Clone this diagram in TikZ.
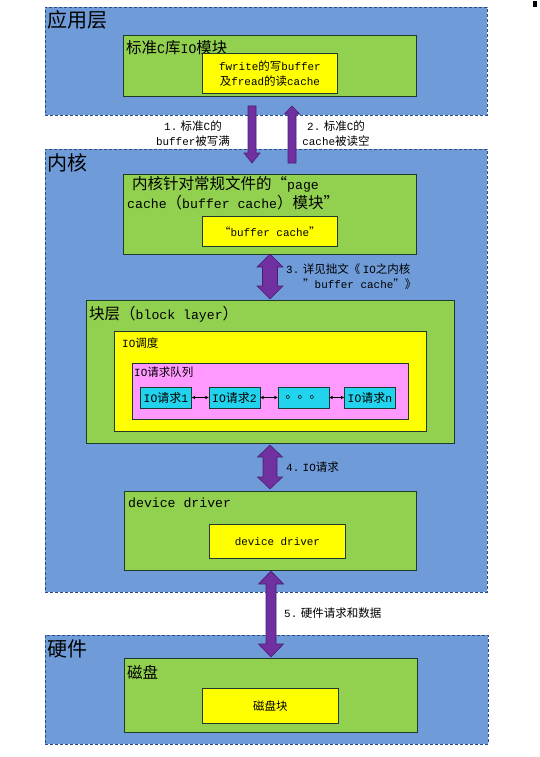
\documentclass[tikz,border=0pt]{standalone}
\usepackage{fontspec}
\setmainfont{Noto Sans CJK SC}
\newfontfamily\lmono[Scale=0.85]{Liberation Mono}
\newfontfamily\lmonob[Scale=0.95]{Liberation Mono}
\newcommand\mo[1]{{\lmono #1}}
\usetikzlibrary{arrows.meta}
\definecolor{layerblue}{HTML}{6F9BD8}
\definecolor{layerborder}{HTML}{2B4C86}
\definecolor{boxgreen}{HTML}{92D050}
\definecolor{boxborder}{HTML}{1E3A2A}
\definecolor{boxyellow}{HTML}{FFFF00}
\definecolor{boxpink}{HTML}{FF99FF}
\definecolor{boxcyan}{HTML}{22D3EE}
\definecolor{arrowpurple}{HTML}{7030A0}
\definecolor{arrowborder}{HTML}{4A1F70}
\newcommand\dblarrowshape[6]{%
\filldraw[blockarrow] (#1,#2) -- ({#1+#5},{#2+#6}) -- ({#1+#4},{#2+#6}) -- ({#1+#4},{#3-#6}) -- ({#1+#5},{#3-#6}) -- (#1,#3) -- ({#1-#5},{#3-#6}) -- ({#1-#4},{#3-#6}) -- ({#1-#4},{#2+#6}) -- ({#1-#5},{#2+#6}) -- cycle;}
\newcommand\downarrowshape[6]{%
\filldraw[blockarrow] ({#1-#4},#2) -- ({#1+#4},#2) -- ({#1+#4},{#3-#6}) -- ({#1+#5},{#3-#6}) -- (#1,#3) -- ({#1-#5},{#3-#6}) -- ({#1-#4},{#3-#6}) -- cycle;}
\newcommand\uparrowshape[6]{%
\filldraw[blockarrow] (#1,#2) -- ({#1+#5},{#2+#6}) -- ({#1+#4},{#2+#6}) -- ({#1+#4},#3) -- ({#1-#4},#3) -- ({#1-#4},{#2+#6}) -- ({#1-#5},{#2+#6}) -- cycle;}
\begin{document}
\begin{tikzpicture}[x=1pt,y=-1pt,
  layer/.style={draw=layerborder, fill=layerblue, line width=0.8pt, dash pattern=on 3pt off 2pt, anchor=north west, inner sep=0pt},
  gbox/.style={draw=boxborder, fill=boxgreen, line width=0.8pt, anchor=north west, inner sep=0pt},
  ybox/.style={draw=boxborder, fill=boxyellow, line width=0.8pt, anchor=north west, inner sep=0pt},
  pbox/.style={draw=boxborder, fill=boxpink, line width=0.8pt, anchor=north west, inner sep=0pt},
  cbox/.style={draw=boxborder, fill=boxcyan, line width=0.8pt, inner sep=0pt, minimum width=51pt, minimum height=21pt, font=\fontsize{12}{14}\selectfont\let\lmono\lmonob},
  title/.style={anchor=west, inner sep=0pt, font=\fontsize{20}{24}\selectfont},
  glabel/.style={anchor=west, inner sep=0pt, font=\fontsize{15.5}{19}\selectfont},
  small/.style={inner sep=0pt, font=\fontsize{11.5}{15}\selectfont\let\lmono\lmonob},
  blockarrow/.style={fill=arrowpurple, draw=arrowborder, line width=0.6pt},
  link/.style={<->, >={Stealth[length=3.5pt,width=3.5pt]}, line width=0.8pt, black}
  ]
\useasboundingbox (0,0) rectangle (540,757);
% layers
\node[layer, minimum width=442pt, minimum height=108pt] (app) at (45,7) {};
\node[layer, minimum width=442pt, minimum height=443pt] (kernel) at (45,149) {};
\node[layer, minimum width=443pt, minimum height=109pt] (hw) at (45,635) {};
\node[title] (appt) at (47,20) {应用层};
\node[title] (kernelt) at (47,163) {内核};
\node[title] (hwt) at (47,649) {硬件};
% application layer
\node[gbox, minimum width=293pt, minimum height=61pt] (clib) at (123,35) {};
\node[glabel] (clibt) at (126,48) {标准\mo{C}库\mo{IO}模块};
\node[ybox, minimum width=135pt, minimum height=40pt] (cbuf) at (202,53) {};
\node[small, align=center] (cbuft) at (cbuf.center) {\mo{fwrite}的写\mo{buffer}\\及\mo{fread}的读\mo{cache}};
% page cache
\node[gbox, minimum width=293pt, minimum height=80pt] (pc) at (123,174) {};
\node[glabel, anchor=north west, align=left] (pct) at (127,176) {\hspace{5pt}内核针对常规文件的“\mo{page}\\\mo{cache}（\mo{buffer cache}）模块”};
\node[ybox, minimum width=135pt, minimum height=30pt] (bc) at (202,216) {};
\node[small] (bct) at (bc.center) {“\mo{buffer cache}”};
% block layer
\node[gbox, minimum width=368pt, minimum height=143pt] (blk) at (86,300) {};
\node[glabel] (blkt) at (89,314) {块层（\mo{block layer}）};
\node[ybox, minimum width=312pt, minimum height=100pt] (sched) at (114,331) {};
\node[small, anchor=west] (schedt) at (122,343) {\mo{IO}调度};
\node[pbox, minimum width=276pt, minimum height=56pt] (queue) at (132,363) {};
\node[small, anchor=west] (queuet) at (134,372) {\mo{IO}请求队列};
\node[cbox] (q1) at (166,397.5) {\mo{IO}请求\mo{1}};
\node[cbox] (q2) at (234.5,397.5) {\mo{IO}请求\mo{2}};
\node[cbox] (q3) at (303.5,397.5) {。。。};
\node[cbox] (q4) at (370,397.5) {\mo{IO}请求\mo{n}};
\draw[link] (q1) -- (q2);
\draw[link] (q2) -- (q3);
\draw[link] (q3) -- (q4);
% device driver
\node[gbox, minimum width=292pt, minimum height=79pt] (dd) at (124,491) {};
\node[glabel] (ddt) at (128,503) {\mo{device driver}};
\node[ybox, minimum width=136pt, minimum height=34pt] (ddy) at (209,524) {};
\node[small] (ddyt) at (ddy.center) {\mo{device driver}};
% hardware
\node[gbox, minimum width=293pt, minimum height=74pt] (disk) at (124,658) {};
\node[glabel] (diskt) at (127,672) {磁盘};
\node[ybox, minimum width=136pt, minimum height=35pt] (blkd) at (202,688) {};
\node[small] (blkdt) at (blkd.center) {磁盘块};
% block arrows
\downarrowshape{252}{106}{163}{4}{8}{10}
\uparrowshape{292}{106}{163}{4}{7.5}{8}
\dblarrowshape{270}{254}{299}{7.5}{13}{13}
\dblarrowshape{270}{445}{489}{7}{12.5}{12}
\dblarrowshape{271}{571}{657}{5}{12.5}{13}
% arrow labels
\node[small, align=center] (l1) at (193,134) {\mo{1.} 标准\mo{C}的\\\mo{buffer}被写满};
\node[small, align=center] (l2) at (336,134) {\mo{2.} 标准\mo{C}的\\\mo{cache}被读空};
\node[small, anchor=west] (l3a) at (286,269) {\mo{3.} 详见拙文《 \mo{IO}之内核};
\node[small, anchor=west] (l3b) at (303,284) {”\mo{buffer cache}”》};
\node[small, anchor=west] (l4) at (286,467) {\mo{4.} \mo{IO}请求};
\node[small, anchor=west] (l5) at (284,613) {\mo{5.} 硬件请求和数据};
% stray mark
\fill[black] (533,1) rectangle (537,7);
\end{tikzpicture}
\end{document}
